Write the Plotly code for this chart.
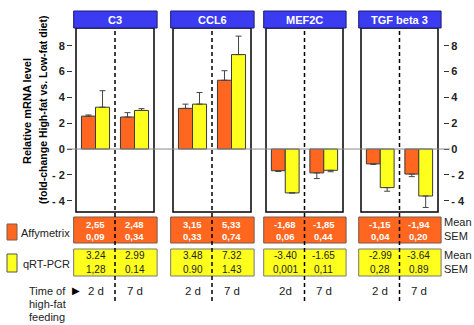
import plotly.graph_objects as go

W, H = 474, 325

genes = ["C3", "CCL6", "MEF2C", "TGF beta 3"]
times = ["2 d", "7 d"]
affy_mean = [[2.55, 2.48], [3.15, 5.33], [-1.68, -1.85], [-1.15, -1.94]]
affy_sem = [[0.09, 0.34], [0.33, 0.74], [0.06, 0.44], [0.04, 0.20]]
qpcr_mean = [[3.24, 2.99], [3.48, 7.32], [-3.40, -1.65], [-2.99, -3.64]]
qpcr_sem = [[1.28, 0.14], [0.90, 1.43], [0.001, 0.11], [0.28, 0.89]]

affy_mean_txt = [["2,55", "2,48"], ["3,15", "5,33"], ["-1,68", "-1,85"], ["-1,15", "-1,94"]]
affy_sem_txt = [["0,09", "0,34"], ["0,33", "0,74"], ["0,06", "0,44"], ["0,04", "0,20"]]
qpcr_mean_txt = [["3.24", "2.99"], ["3.48", "7.32"], ["-3.40", "-1.65"], ["-2.99", "-3.64"]]
qpcr_sem_txt = [["1,28", "0.14"], ["0.90", "1.43"], ["0,001", "0,11"], ["0,28", "0.89"]]
time_txt = [["2 d", "7 d"], ["2 d", "7 d"], ["2d", "7 d"], ["2 d", "7 d"]]

y_tickvals = [-4, -2, 0, 2, 4, 6, 8]
y_ticktext = ["- 4", "- 2", "0", "2", "4", "6", "8"]

ORANGE = "#FF6620"
YELLOW = "#FFFF1E"
BLUE = "#3B3BF2"
FONT = "Liberation Sans"

# panel box horizontal extents in pixels (layout)
panel_px = [(76, 154), (173, 251), (266, 343), (361, 438)]


def py(p):
    return 1 - p / H


def px(p):
    return p / W


def A(**kw):
    d = dict(showarrow=False, xanchor="center", yanchor="middle")
    d.update(kw)
    return d


fig = go.Figure()
shapes = []
ann = []

for i, g in enumerate(genes):
    s = "" if i == 0 else str(i + 1)
    xa = "x" + s
    for vals, sems, col in ((affy_mean[i], affy_sem[i], ORANGE), (qpcr_mean[i], qpcr_sem[i], YELLOW)):
        up = [e if v >= 0 else 0 for v, e in zip(vals, sems)]
        dn = [e if v < 0 else 0 for v, e in zip(vals, sems)]
        fig.add_trace(go.Bar(
            x=times, y=vals, xaxis=xa, yaxis="y",
            marker=dict(color=col, line=dict(color="#3a3a3a", width=1)),
            error_y=dict(type="data", symmetric=False, array=up, arrayminus=dn,
                         color="#444", thickness=1, width=3),
            showlegend=False, hoverinfo="skip"))
    x0, x1 = panel_px[i]
    fig.layout["xaxis" + s] = dict(domain=[px(x0), px(x1)], type="category",
                                   categoryorder="array", categoryarray=times,
                                   range=[-0.5, 1.5], visible=False, anchor="y",
                                   fixedrange=True)
    dref = xa + " domain"
    # table boxes
    shapes.append(dict(type="rect", xref=dref, yref="paper", x0=-0.03, x1=1.04,
                       y0=py(243), y1=py(217), fillcolor=ORANGE,
                       line=dict(color="#7a5a4a", width=1)))
    shapes.append(dict(type="rect", xref=dref, yref="paper", x0=-0.03, x1=1.04,
                       y0=py(276), y1=py(249), fillcolor=YELLOW,
                       line=dict(color="#777", width=1)))
    # panel box
    shapes.append(dict(type="rect", xref=dref, yref="paper", x0=0, x1=1,
                       y0=py(212), y1=py(28), line=dict(color="black", width=1.5),
                       layer="below"))
    # header
    shapes.append(dict(type="rect", xref=dref, yref="paper", x0=-0.03, x1=1.04,
                       y0=py(28), y1=py(11), fillcolor=BLUE,
                       line=dict(color="#1c1c70", width=1)))
    ann.append(A(xref=dref, yref="paper", x=0.505, y=py(19.5), text="<b>%s</b>" % g,
                 font=dict(family=FONT, size=11, color="white")))
    # dashed divider
    shapes.append(dict(type="line", xref=xa, yref="paper", x0=0.5, x1=0.5,
                       y0=py(301), y1=py(28), line=dict(color="black", width=1.5, dash="4px,3px")))
    for j in range(2):
        ann.append(A(xref=xa, yref="paper", x=j, y=py(224), text="<b>%s</b>" % affy_mean_txt[i][j],
                     font=dict(family=FONT, size=9.5, color="white")))
        ann.append(A(xref=xa, yref="paper", x=j, y=py(236.5), text="<b>%s</b>" % affy_sem_txt[i][j],
                     font=dict(family=FONT, size=9.5, color="white")))
        ann.append(A(xref=xa, yref="paper", x=j, y=py(255.5), text="%s" % qpcr_mean_txt[i][j],
                     font=dict(family=FONT, size=10, color="#222")))
        ann.append(A(xref=xa, yref="paper", x=j, y=py(269), text="%s" % qpcr_sem_txt[i][j],
                     font=dict(family=FONT, size=10, color="#222")))
        ann.append(A(xref=xa, yref="paper", x=j, y=py(291), text=time_txt[i][j],
                     font=dict(family=FONT, size=11.5, color="#222")))

# zero line
shapes.append(dict(type="line", xref="paper", yref="y", x0=px(67), x1=px(450), y0=0, y1=0,
                   line=dict(color="#8a8a8a", width=1)))

# legend swatches
shapes.append(dict(type="rect", xref="paper", yref="paper", x0=px(7), x1=px(17),
                   y0=py(240), y1=py(224), fillcolor=ORANGE, line=dict(color="#7a5a4a", width=1)))
shapes.append(dict(type="rect", xref="paper", yref="paper", x0=px(7), x1=px(17),
                   y0=py(272), y1=py(254), fillcolor=YELLOW, line=dict(color="#555", width=1)))

side_font = dict(family=FONT, size=11, color="#222")
ann += [
    A(xref="paper", yref="paper", x=px(72), y=py(233), xanchor="right", text="Affymetrix",
      font=side_font),
    A(xref="paper", yref="paper", x=px(72), y=py(264), xanchor="right", text="qRT-PCR",
      font=side_font),
    A(xref="paper", yref="paper", x=px(27), y=py(291), xanchor="left", text="Time of",
      font=side_font),
    A(xref="paper", yref="paper", x=px(70), y=py(290.5), xanchor="left", text="\u25B6",
      font=dict(family="DejaVu Sans", size=10, color="black")),
    A(xref="paper", yref="paper", x=px(27), y=py(303.5), xanchor="left", text="high-fat",
      font=side_font),
    A(xref="paper", yref="paper", x=px(27), y=py(317), xanchor="left", text="feeding",
      font=side_font),
]
for yy, t in ((222, "Mean"), (236.5, "SEM"), (254.5, "Mean"), (268.5, "SEM")):
    ann.append(A(xref="paper", yref="paper", x=px(442), y=py(yy), xanchor="left", text=t,
                 font=side_font))

# y title
ann.append(A(xref="paper", yref="paper", x=px(27), y=py(111), text="<b>Relative mRNA level</b>",
             textangle=-90, font=dict(family=FONT, size=11, color="black")))
ann.append(A(xref="paper", yref="paper", x=px(43), y=py(110),
             text="<b>(fold-change High-fat vs. Low-fat diet)</b>",
             textangle=-90, font=dict(family=FONT, size=10.5, color="black")))

yrange = [-4.88, 9.38]
tickfont = dict(family=FONT, size=11, color="#222", weight="bold")
fig.update_layout(
    width=W, height=H, margin=dict(l=0, r=0, t=0, b=0),
    paper_bgcolor="white", plot_bgcolor="rgba(0,0,0,0)",
    barmode="group", bargap=0.28, bargroupgap=0,
    yaxis=dict(domain=[py(212), py(28)], range=yrange, anchor="free", position=px(72),
               tickvals=y_tickvals, ticktext=y_ticktext, ticks="outside", ticklen=5,
               tickcolor="#333", showgrid=False, zeroline=False, showline=False,
               tickfont=tickfont, fixedrange=True),
    yaxis2=dict(domain=[py(212), py(28)], range=yrange, anchor="free", position=px(443),
                overlaying="y", side="right",
                tickvals=y_tickvals, ticktext=y_ticktext, ticks="outside", ticklen=5,
                tickcolor="#333", showgrid=False, zeroline=False, showline=False,
                tickfont=tickfont, fixedrange=True),
    shapes=shapes, annotations=ann, showlegend=False,
)
fig.add_trace(go.Scatter(x=[None], y=[None], xaxis="x", yaxis="y2", showlegend=False,
                         hoverinfo="skip"))

fig.write_html("out.html")
